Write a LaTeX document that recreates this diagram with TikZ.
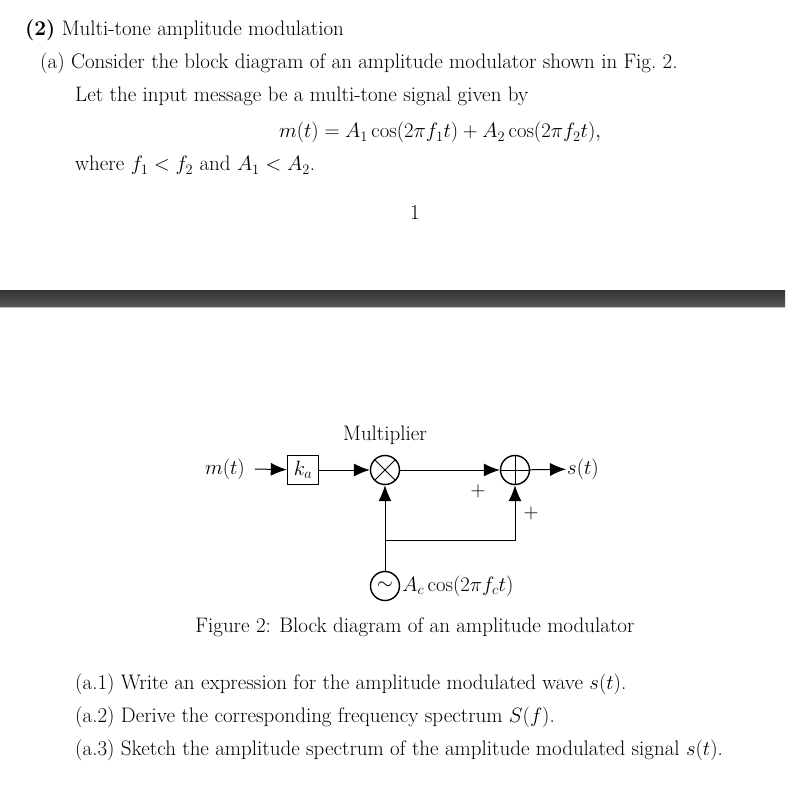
\documentclass[tikz,border=0pt]{standalone}
\usetikzlibrary{arrows.meta}
\begin{document}
\begin{tikzpicture}[x=1pt,y=-1pt,font=\fontsize{21}{24}\selectfont,
  txt/.style={anchor=base west,inner sep=0},
  arr/.style={-{Latex[length=16pt,width=13pt]},line width=1pt},
  ln/.style={line width=1pt},
  circ/.style={circle,draw,line width=1.4pt,minimum size=29pt,inner sep=0}]
\useasboundingbox (0,0) rectangle (785,802);
\node[txt] (t1) at (25,36) {\textbf{(2)} Multi-tone amplitude modulation};
\node[txt] (t2) at (40,69) {(a) Consider the block diagram of an amplitude modulator shown in Fig.~2.};
\node[txt] (t3) at (75,102) {Let the input message be a multi-tone signal given by};
\node[anchor=base,inner sep=0] (eq) at (440,138) {$m(t)=A_1\cos(2\pi f_1t)+A_2\cos(2\pi f_2t),$};
\node[txt] (t4) at (75,171) {where $f_1<f_2$ and $A_1<A_2$.};
\node[anchor=base,inner sep=0] (pg) at (415,219) {1};
\fill[top color=black!80,bottom color=black!65] (0,290) rectangle (785,307);
\draw[black!25] (0,307.5) -- (785,307.5);
% diagram
\node[anchor=base,inner sep=0] (lab) at (385,440) {Multiplier};
\node[anchor=east,inner sep=0pt] (m) at (245,469) {$m(t)$};
\node[draw,line width=1.4pt,minimum width=31pt,minimum height=29pt,inner sep=0] (ka) at (303,470) {$k_a$};
\node[circ] (mul) at (385,470) {};
\draw[ln] (mul.north east)--(mul.south west) (mul.north west)--(mul.south east);
\node[circ] (add) at (515,470) {};
\draw[ln] (add.north)--(add.south) (add.west)--(add.east);
\node[circ] (osc) at (385,586) {$\sim$};
\node[anchor=west,inner sep=2pt] (ac) at (osc.east) {$A_c\cos(2\pi f_ct)$};
\node[anchor=west,inner sep=1pt] (s) at (566,469) {$s(t)$};
\draw[arr] ([xshift=10pt]m.east) -- (ka);
\draw[arr] (ka) -- (mul);
\draw[arr] (mul) -- (add);
\draw[arr] (add) -- (s);
\coordinate (br) at (385,540);
\draw[arr] (osc) -- (mul);
\draw[arr] (br) -| (add);
\node (p1) at (478,491) {$+$};
\node (p2) at (531,513) {$+$};
\node[anchor=base,inner sep=0] (cap) at (415,632) {Figure 2: Block diagram of an amplitude modulator};
\node[txt] (a1) at (75,689) {(a.1) Write an expression for the amplitude modulated wave $s(t)$.};
\node[txt] (a2) at (75,722) {(a.2) Derive the corresponding frequency spectrum $S(f)$.};
\node[txt] (a3) at (75,755) {(a.3) Sketch the amplitude spectrum of the amplitude modulated signal $s(t)$.};
\end{tikzpicture}
\end{document}
